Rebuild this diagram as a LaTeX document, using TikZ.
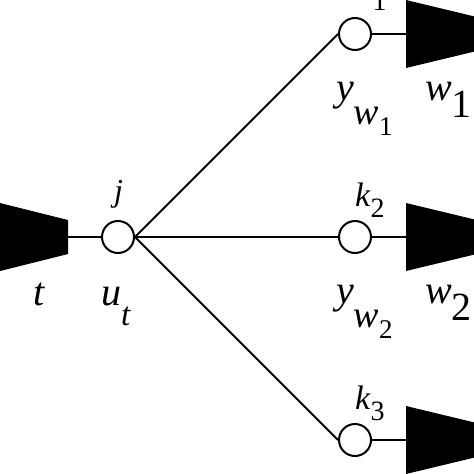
\documentclass[tikz,border=0pt]{standalone}
\usepackage{fontspec}
\setmainfont{Liberation Serif}
\newcommand{\lsub}[4]{#1\raisebox{-#4}{\fontsize{#3}{#3}\selectfont#2}}
\begin{document}
\begin{tikzpicture}[x=1pt,y=1pt,yscale=-1,xscale=1,line width=2pt]
\tikzset{unit/.style={draw,circle,minimum size=32pt,inner sep=0pt,fill=white},
  lbl/.style={inner sep=0pt,anchor=base west,font=\fontsize{40}{40}\selectfont},
  smalllbl/.style={inner sep=0pt,anchor=base west,font=\fontsize{34}{34}\selectfont}}
        \useasboundingbox (0,0) rectangle (474,474);
        \clip (0,0) rectangle (474,474);
        \fill (68,220) -- (68,254) -- (-30,278.5) -- (-30,195.5) -- cycle ;
        \fill (406,0) -- (406,68) -- (500,45.4) -- (500,22.6) -- cycle ;
        \fill (406,203) -- (406,271) -- (500,248.4) -- (500,225.6) -- cycle ;
        \fill (406,406) -- (406,474) -- (500,451.4) -- (500,428.6) -- cycle ;
        \coordinate (tin) at (68,237) ;
        \coordinate (w1in) at (406,34) ;
        \coordinate (w2in) at (406,237) ;
        \coordinate (w3in) at (406,440) ;
        \node [unit] (ut) at (118,237) {} ;
        \node [unit] (y1) at (355,34) {} ;
        \node [unit] (y2) at (355,237) {} ;
        \node [unit] (y3) at (355,440) {} ;
        \draw    (tin) -- (ut.west) ;
        \draw    (ut.east) -- (y1.west) ;
        \draw    (ut.east) -- (y2.west) ;
        \draw    (ut.east) -- (y3.west) ;
        \draw    (y1.east) -- (w1in) ;
        \draw    (y2.east) -- (w2in) ;
        \draw    (y3.east) -- (w3in) ;

        \node [lbl] (lt) at (32,305) {\textit{t}};
        \node [lbl] (lut) at (100,305) {\lsub{\textit{u}}{\textit{t}}{33}{20pt}};
        \node [lbl,font=\fontsize{32}{32}\selectfont] (lj) at (113,201) {\textit{j}};
        \node [smalllbl] (lk1) at (356,-1) {\lsub{\textit{k}}{1}{28}{11pt}};
        \node [smalllbl] (lk2) at (354,206) {\lsub{\textit{k}}{2}{28}{11pt}};
        \node [smalllbl] (lk3) at (354,409) {\lsub{\textit{k}}{3}{28}{11pt}};
        \node [lbl] (lyw1) at (335,100) {\lsub{\textit{y}}{\lsub{\textit{w}}{1}{27}{11pt}}{38}{24pt}};
        \node [lbl] (lyw2) at (335,303) {\lsub{\textit{y}}{\lsub{\textit{w}}{2}{27}{11pt}}{38}{24pt}};
        \node [lbl] (lw1) at (424,100) {\lsub{\textit{w}}{1}{40}{17pt}};
        \node [lbl] (lw2) at (424,303) {\lsub{\textit{w}}{2}{40}{17pt}};
\end{tikzpicture}
\end{document}
